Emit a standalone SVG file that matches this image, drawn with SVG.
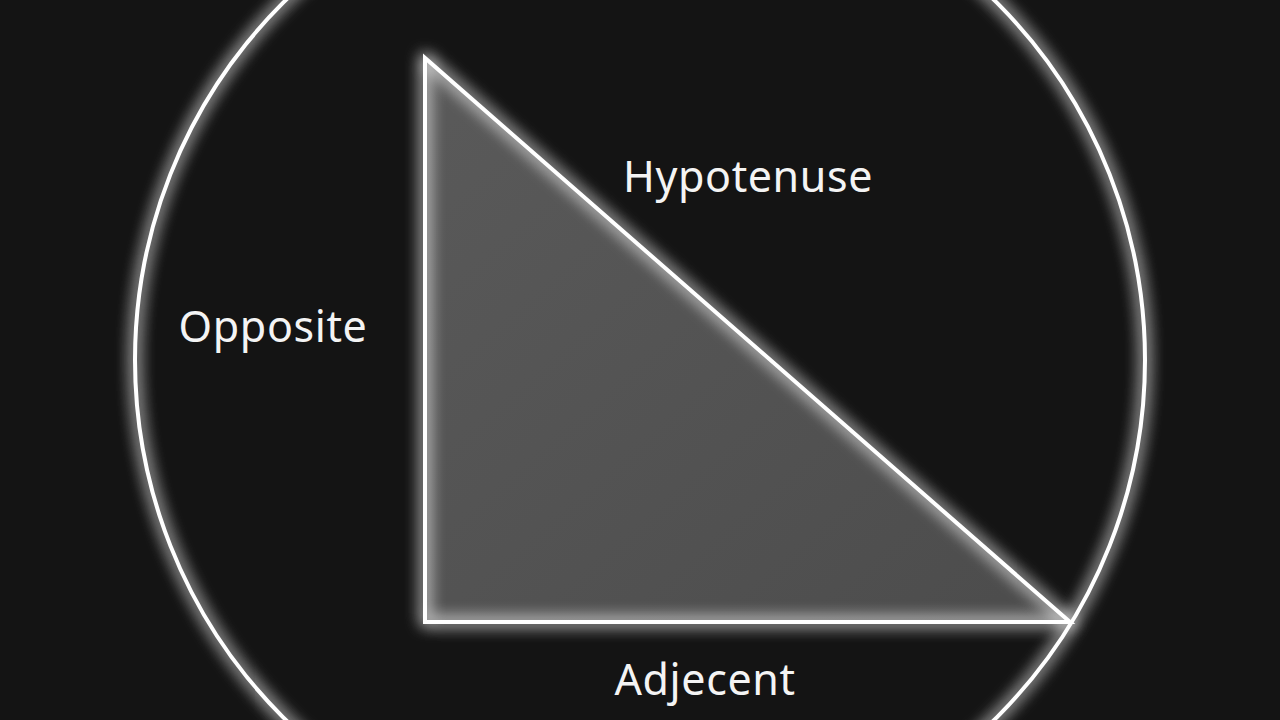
<svg xmlns="http://www.w3.org/2000/svg" width="1280" height="720" viewBox="0 0 1280 720">
<defs>
<filter id="glow" x="-20%" y="-20%" width="140%" height="140%">
<feGaussianBlur in="SourceGraphic" stdDeviation="8" result="b"/>
<feMerge><feMergeNode in="b"/><feMergeNode in="b"/><feMergeNode in="SourceGraphic"/></feMerge>
</filter>
<linearGradient id="tri" x1="0" y1="0" x2="1" y2="1">
<stop offset="0" stop-color="#5a5a5a"/>
<stop offset="1" stop-color="#4c4c4c"/>
</linearGradient>
<style>
.lbl{font-family:"Noto Sans","Open Sans",sans-serif;font-size:43px;letter-spacing:0.6px;fill:#f4f4f4;text-anchor:middle}
.ln{fill:none;stroke:#ffffff;stroke-width:4;stroke-linejoin:miter}
</style>
</defs>
<rect width="1280" height="720" fill="#141414"/>
<g id="circle">
<circle cx="640" cy="360" r="505" class="ln" filter="url(#glow)"/>
</g>
<g id="triangle">
<polygon points="425,58 425,622 1070,622" fill="url(#tri)"/>
<polygon points="425,58 425,622 1070,622" class="ln" filter="url(#glow)"/>
</g>
<g id="labels">
<text class="lbl" x="748" y="192">Hypotenuse</text>
<text class="lbl" x="273" y="342">Opposite</text>
<text class="lbl" x="705" y="695">Adjecent</text>
</g>
</svg>
